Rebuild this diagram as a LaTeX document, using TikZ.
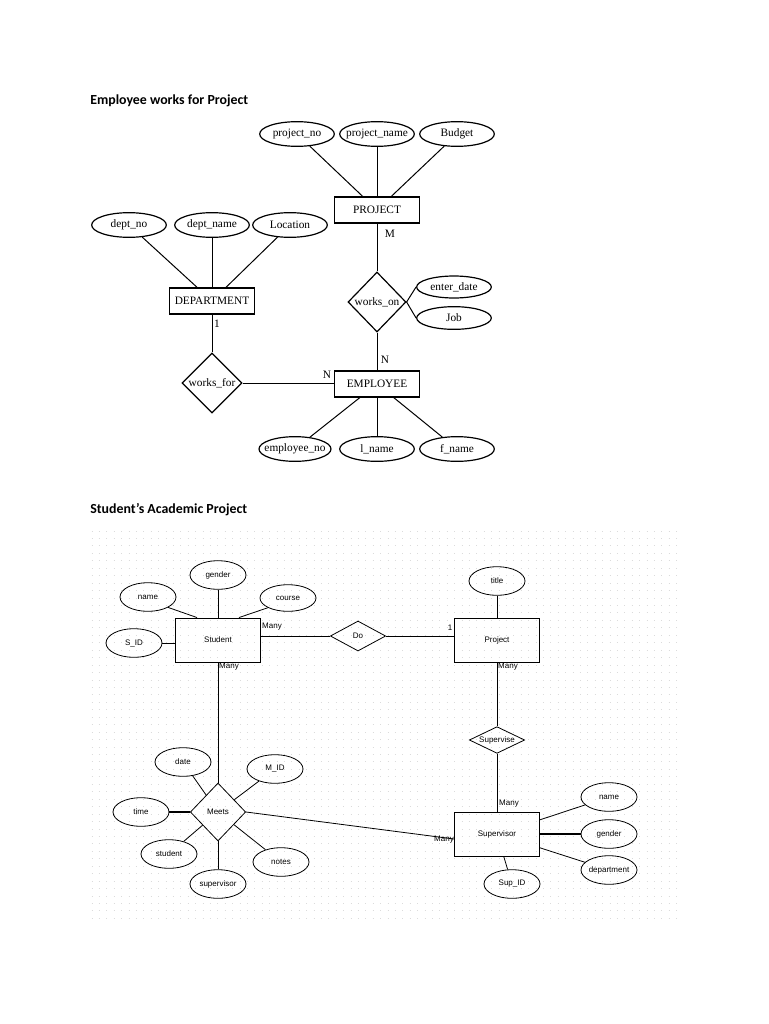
\documentclass[tikz,border=0pt]{standalone}
\usepackage{fontspec}
\setmainfont{Liberation Serif}
\newfontfamily\fuentetit{Carlito}
\newfontfamily\fuentediag{Liberation Sans}
\usetikzlibrary{shapes.geometric,calc}
\newcommand{\etq}[1]{\makebox[0pt]{#1}}

\tikzset{
    tit/.style={anchor=west, inner sep=0pt, font=\fuentetit\bfseries\fontsize{10.4}{12}\selectfont},
    % diagrama de arriba
    linea/.style={line width=0.75pt},
    entidad/.style={rectangle, draw, line width=0.9pt, inner sep=0pt, minimum width=63.5pt, minimum height=19.5pt, font=\fontsize{8.5}{10}\selectfont},
    relac/.style={diamond, draw, line width=0.9pt, inner sep=0pt, minimum width=44pt, minimum height=45pt, font=\fontsize{8.5}{10}\selectfont},
    atrib/.style={ellipse, draw, line width=0.9pt, inner sep=0pt, minimum width=56pt, minimum height=18.5pt, font=\fontsize{8.5}{10}\selectfont},
    card/.style={inner sep=0pt, font=\fontsize{8.5}{10}\selectfont},
    % diagrama de abajo
    lineaB/.style={line width=0.6pt},
    entidadB/.style={rectangle, draw, line width=0.7pt, inner sep=0pt, minimum width=63.5pt, minimum height=33pt, font=\fuentediag\fontsize{6}{7}\selectfont},
    relacB/.style={diamond, draw, line width=0.6pt, inner sep=0pt, minimum width=41.5pt, font=\fuentediag\fontsize{6}{7}\selectfont},
    atribB/.style={ellipse, draw, line width=0.6pt, inner sep=0pt, minimum width=42pt, minimum height=21.5pt, font=\fuentediag\fontsize{6}{7}\selectfont},
    cardB/.style={inner sep=0pt, font=\fuentediag\fontsize{6}{7}\selectfont},
    punto/.style={black!14, line width=0.75pt, dash pattern=on 0.75pt off 4.8pt}
}

\begin{document}
\begin{tikzpicture}[x=0.75pt, y=-0.75pt]
    \useasboundingbox (0,0) rectangle (768,1024);
    % Titulos
    \node[tit] (tit1) at (90,101) {Employee works for Project};
    \node[tit] (tit2) at (90,510) {Student’s Academic Project};

    % Rejilla de puntos
    \foreach \y in {531,538.45,...,922}
        \draw[punto] (91.5,\y) -- (678,\y);

    % Entidades y relaciones (arriba)
    \node[entidad] (proj) at (377,210) {PROJECT};
    \node[entidad] (dept) at (212,301) {DEPARTMENT};
    \node[entidad] (emp) at (377,384) {EMPLOYEE};
    \node[relac, minimum width=43.5pt] (won) at (377,302) {\etq{works\_on}};
    \node[relac, minimum width=45pt] (wfor) at (212,383) {\etq{works\_for}};

    % Atributos (arriba)
    \node[atrib] (pno) at (297,134) {\etq{project\_no}};
    \node[atrib] (pname) at (377,134) {\etq{project\_name}};
    \node[atrib] (budget) at (457,134) {\etq{Budget}};
    \node[atrib] (dno) at (129,225) {\etq{dept\_no}};
    \node[atrib] (dname) at (212,225) {\etq{dept\_name}};
    \node[atrib] (loc) at (290,225) {\etq{Location}};
    \node[atrib, minimum height=16.5pt] (edate) at (454,287) {\etq{enter\_date}};
    \node[atrib, minimum height=17pt] (job) at (454,318) {\etq{Job}};
    \node[atrib, minimum width=54pt] (eno) at (295,449) {\etq{employee\_no}};
    \node[atrib] (lname) at (377,449) {\etq{l\_name}};
    \node[atrib] (fname) at (457,449) {\etq{f\_name}};

    % Lineas (arriba)
    \foreach \a in {pno,pname,budget}
        \draw[linea] (\a) -- (proj);
    \foreach \a in {dno,dname,loc}
        \draw[linea] (\a) -- (dept);
    \foreach \a in {eno,lname,fname}
        \draw[linea] (\a) -- (emp);
    \draw[linea] (proj) -- (won) -- (emp);
    \draw[linea] (won.east) -- (edate.west);
    \draw[linea] (won.east) -- (job.west);
    \draw[linea] (dept) -- (wfor);
    \draw[linea] (wfor) -- (wfor -| emp.west);

    % Cardinalidades (arriba)
    \node[card] (cM) at (390,234) {M};
    \node[card] (c1) at (217,324) {1};
    \node[card] (cN1) at (327,375) {N};
    \node[card] (cN2) at (385,360) {N};

    % Entidades y relaciones (abajo)
    \node[entidadB] (stud) at (218,640) {Student};
    \node[entidadB] (proj2) at (497,640) {Project};
    \node[entidadB] (superv) at (497,834) {Supervisor};
    \node[relacB, minimum height=22.5pt] (do) at (358,636) {\etq{Do}};
    \node[relacB, minimum height=20pt] (supvise) at (497,740) {\etq{Supervise}};
    \node[relacB, minimum height=43.5pt] (meets) at (218,812) {\etq{Meets}};

    % Atributos (abajo)
    \node[atribB] (sname) at (148,597) {\etq{name}};
    \node[atribB] (sgender) at (218,575) {\etq{gender}};
    \node[atribB, minimum height=20pt] (course) at (288,598) {\etq{course}};
    \node[atribB] (sid) at (134,643) {\etq{S\_ID}};
    \node[atribB] (title) at (497,581) {\etq{title}};
    \node[atribB] (date) at (183,762) {\etq{date}};
    \node[atribB] (mid) at (275,769) {\etq{M\_ID}};
    \node[atribB] (time) at (141,812) {\etq{time}};
    \node[atribB] (mstud) at (169,854) {\etq{student}};
    \node[atribB] (notes) at (281,862) {\etq{notes}};
    \node[atribB] (msup) at (218,884) {\etq{supervisor}};
    \node[atribB] (vname) at (609,797) {\etq{name}};
    \node[atribB] (vgender) at (609,834) {\etq{gender}};
    \node[atribB] (vdept) at (609,870) {\etq{department}};
    \node[atribB] (supid) at (512,884) {\etq{Sup\_ID}};

    % Lineas (abajo)
    \draw[lineaB] (sname.south east) -- ($(stud.north)+(-21,0)$);
    \draw[lineaB] (sgender) -- (stud);
    \draw[lineaB] (course.south west) -- ($(stud.north)+(21,0)$);
    \draw[lineaB] (sid.east) -- (sid.east -| stud.west);
    \draw[lineaB] (do.west -| stud.east) -- (do.west);
    \draw[lineaB] (do.east) -- (do.east -| proj2.west);
    \draw[lineaB] (title) -- (proj2);
    \draw[lineaB] (stud) -- (meets);
    \draw[lineaB] (proj2) -- (supvise) -- (superv);
    \draw[lineaB] (meets.east) -- ($(superv.west)+(0,5)$);
    \foreach \a in {date,mid,mstud,msup,notes}
        \draw[lineaB] (\a) -- (meets);
    \draw[lineaB, line width=1.1pt] (time) -- (meets);
    \foreach \a in {vname,vdept,supid}
        \draw[lineaB] (\a) -- (superv);
    \draw[lineaB, line width=1.1pt] (vgender) -- (superv);

    % Cardinalidades (abajo)
    \node[cardB] (mS1) at (272,627) {Many};
    \node[cardB] (mS2) at (229,667) {Many};
    \node[cardB] (uno) at (450,628) {1};
    \node[cardB] (mP) at (508,667) {Many};
    \node[cardB] (mV1) at (509,804) {Many};
    \node[cardB] (mV2) at (444,840) {Many};
\end{tikzpicture}
\end{document}
